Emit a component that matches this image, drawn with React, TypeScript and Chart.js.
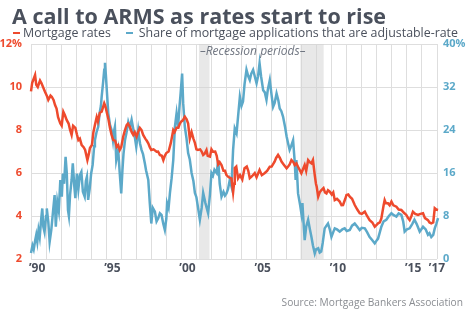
import React, { useEffect, useRef } from "react";
import { Chart, registerables } from "chart.js";

Chart.register(...registerables);

// Mortgage rates (%), left axis
const rateYears = [
  1990.0, 1990.08, 1990.27, 1990.35, 1990.45, 1990.6, 1990.7, 1990.8, 1990.93,
  1991.05, 1991.15, 1991.3, 1991.38, 1991.5, 1991.6, 1991.7, 1991.8, 1991.95,
  1992.04, 1992.15, 1992.25, 1992.37, 1992.5, 1992.6, 1992.7, 1992.8, 1992.95,
  1993.05, 1993.15, 1993.25, 1993.37, 1993.5, 1993.6, 1993.75, 1993.85, 1993.92,
  1994.05, 1994.15, 1994.25, 1994.37, 1994.45, 1994.58, 1994.7, 1994.87, 1994.95,
  1995.03, 1995.15, 1995.25, 1995.35, 1995.47, 1995.6, 1995.7, 1995.8, 1995.9,
  1996.0, 1996.13, 1996.25, 1996.36, 1996.45, 1996.58, 1996.7, 1996.8, 1996.9,
  1997.02, 1997.12, 1997.24, 1997.35, 1997.46, 1997.6, 1997.7, 1997.8, 1997.9,
  1998.0, 1998.15, 1998.35, 1998.45, 1998.57, 1998.7, 1998.8, 1998.9,
  1999.0, 1999.15, 1999.3, 1999.46, 1999.55, 1999.68, 1999.8, 1999.9,
  2000.0, 2000.1, 2000.23, 2000.35, 2000.45, 2000.56, 2000.68, 2000.8, 2000.9,
  2001.0, 2001.1, 2001.25, 2001.35, 2001.45, 2001.55, 2001.67, 2001.75, 2001.9,
  2002.0, 2002.1, 2002.25, 2002.35, 2002.45, 2002.55, 2002.67, 2002.8, 2002.9,
  2003.0, 2003.15, 2003.33, 2003.44, 2003.5, 2003.55, 2003.65, 2003.77, 2003.9,
  2004.05, 2004.2, 2004.35, 2004.45, 2004.55, 2004.7, 2004.88,
  2005.0, 2005.2, 2005.35, 2005.55, 2005.7, 2005.88,
  2006.0, 2006.2, 2006.3, 2006.43, 2006.55, 2006.66, 2006.8,
  2007.0, 2007.1, 2007.2, 2007.32, 2007.45, 2007.54, 2007.65, 2007.76, 2007.9, 2007.98,
  2008.1, 2008.2, 2008.3, 2008.43, 2008.55, 2008.65, 2008.75, 2008.87, 2008.95,
  2009.0, 2009.1, 2009.2, 2009.3, 2009.45, 2009.55, 2009.65, 2009.75, 2009.87,
  2010.0, 2010.1, 2010.2, 2010.35, 2010.53, 2010.65, 2010.75, 2010.9, 2010.98,
  2011.1, 2011.2, 2011.35, 2011.53, 2011.7, 2011.86,
  2012.0, 2012.2, 2012.35, 2012.52, 2012.7, 2012.86,
  2013.0, 2013.08, 2013.2, 2013.3, 2013.45, 2013.52, 2013.6, 2013.74, 2013.85, 2013.97,
  2014.1, 2014.3, 2014.45, 2014.63, 2014.8, 2014.96,
  2015.08, 2015.18, 2015.3, 2015.4, 2015.55, 2015.74, 2015.9,
  2016.07, 2016.2, 2016.4, 2016.5, 2016.62, 2016.75, 2016.85, 2016.95, 2017.07,
];
const rateValues = [
  9.8, 10.2, 10.56, 10.1, 10.0, 10.3, 10.17, 10.0, 9.78,
  9.6, 9.4, 9.6, 9.55, 9.4, 9.16, 9.0, 8.6, 8.3,
  8.2, 8.85, 8.7, 8.47, 8.3, 8.0, 7.77, 8.2, 8.1,
  7.8, 7.53, 7.6, 7.3, 7.2, 7.07, 6.6, 6.9, 7.16,
  7.3, 7.9, 8.23, 8.6, 8.4, 8.8, 8.85, 9.24, 9.1,
  8.85, 8.5, 8.1, 7.8, 7.53, 7.5, 7.22, 7.3, 7.07,
  7.2, 7.69, 8.0, 8.23, 8.3, 8.15, 7.9, 7.77, 7.9,
  7.69, 7.9, 8.1, 8.0, 7.77, 7.6, 7.5, 7.38, 7.2,
  7.07, 7.1, 6.99, 7.0, 6.84, 6.8, 6.6, 6.8,
  6.93, 7.0, 7.4, 8.0, 7.9, 8.1, 8.1, 8.3,
  8.4, 8.45, 8.62, 8.5, 8.3, 7.6, 7.9, 7.6, 7.4,
  7.1, 7.07, 7.1, 7.0, 6.84, 6.9, 7.07, 6.8, 6.76,
  7.1, 6.99, 7.0, 6.8, 6.4, 6.5, 6.37, 6.1, 6.1,
  5.9, 5.8, 5.75, 5.1, 5.5, 6.23, 6.3, 5.75, 5.9,
  5.7, 6.22, 6.3, 6.1, 5.76, 5.85, 6.0,
  5.8, 6.14, 5.9, 6.0, 6.1, 6.29,
  6.3, 6.53, 6.7, 6.84, 6.7, 6.53, 6.4,
  6.22, 6.3, 6.4, 6.6, 6.5, 6.37, 6.45, 6.29, 6.1, 5.99,
  6.2, 6.37, 6.1, 6.6, 6.5, 6.45, 6.6, 5.9, 5.5,
  5.36, 4.9, 5.1, 5.2, 5.3, 5.1, 5.05, 5.2, 5.13,
  5.0, 5.1, 4.74, 4.8, 4.67, 4.5, 4.51, 4.8, 4.98,
  5.0, 4.9, 4.8, 4.51, 4.3, 4.13,
  4.1, 4.2, 4.0, 3.81, 3.7, 3.5,
  3.6, 3.66, 3.7, 3.89, 4.5, 4.74, 4.6, 4.59, 4.5, 4.67,
  4.5, 4.43, 4.3, 4.28, 4.15, 4.05,
  3.9, 3.81, 4.0, 4.2, 4.1, 4.05, 4.1,
  4.13, 3.9, 3.81, 3.7, 3.66, 3.7, 4.36, 4.3, 4.28,
];

// Share of mortgage applications that are adjustable-rate (%), right axis
const armYears = [
  1990.0, 1990.1, 1990.18, 1990.28, 1990.35, 1990.42, 1990.5, 1990.58, 1990.68, 1990.75, 1990.82, 1990.9,
  1991.0, 1991.05, 1991.15, 1991.24, 1991.35, 1991.47, 1991.57, 1991.65, 1991.75, 1991.85, 1991.95,
  1992.05, 1992.12, 1992.2, 1992.3, 1992.38, 1992.46, 1992.52, 1992.6, 1992.7, 1992.78, 1992.88, 1992.95,
  1993.05, 1993.15, 1993.25, 1993.35, 1993.45, 1993.57, 1993.65, 1993.72, 1993.8, 1993.9,
  1994.0, 1994.1, 1994.2, 1994.25, 1994.35, 1994.47, 1994.56, 1994.65, 1994.7, 1994.8, 1994.87, 1994.92, 1994.98,
  1995.05, 1995.14, 1995.25, 1995.36, 1995.45, 1995.5, 1995.58, 1995.67, 1995.8, 1995.9,
  1996.0, 1996.08, 1996.15, 1996.25, 1996.35, 1996.47, 1996.58, 1996.69, 1996.78, 1996.9,
  1997.0, 1997.13, 1997.25, 1997.35, 1997.45, 1997.57, 1997.65, 1997.8, 1997.9,
  1998.0, 1998.1, 1998.24, 1998.35, 1998.46, 1998.57, 1998.68, 1998.8, 1998.9,
  1999.0, 1999.05, 1999.15, 1999.24, 1999.35, 1999.46, 1999.57, 1999.68, 1999.78, 1999.88, 1999.95,
  2000.05, 2000.12, 2000.23, 2000.34, 2000.45, 2000.56, 2000.68, 2000.8, 2000.9,
  2001.0, 2001.1, 2001.23, 2001.35, 2001.45, 2001.6, 2001.78, 2001.9,
  2002.0, 2002.1, 2002.2, 2002.35, 2002.45, 2002.55, 2002.67, 2002.8, 2002.9,
  2003.0, 2003.1, 2003.22, 2003.33, 2003.44, 2003.55, 2003.67, 2003.77, 2003.89,
  2004.0, 2004.1, 2004.2, 2004.33, 2004.45, 2004.55, 2004.65, 2004.77, 2004.88,
  2005.0, 2005.1, 2005.2, 2005.3, 2005.44, 2005.55, 2005.66, 2005.75, 2005.88,
  2006.0, 2006.1, 2006.2, 2006.33, 2006.45, 2006.54, 2006.65, 2006.76, 2006.9,
  2007.0, 2007.1, 2007.2, 2007.3, 2007.43, 2007.54, 2007.6, 2007.65, 2007.76, 2007.9, 2007.98,
  2008.05, 2008.12, 2008.2, 2008.3, 2008.43, 2008.55, 2008.65, 2008.75, 2008.87, 2008.95,
  2009.1, 2009.2, 2009.3, 2009.4, 2009.53, 2009.65, 2009.75, 2009.87, 2009.98,
  2010.1, 2010.2, 2010.35, 2010.53, 2010.7, 2010.86,
  2011.0, 2011.2, 2011.35, 2011.53, 2011.7, 2011.86,
  2012.0, 2012.2, 2012.35, 2012.52, 2012.7, 2012.86,
  2013.0, 2013.08, 2013.2, 2013.3, 2013.45, 2013.63, 2013.8, 2013.97,
  2014.1, 2014.3, 2014.45, 2014.63, 2014.75, 2014.85,
  2015.0, 2015.18, 2015.35, 2015.5, 2015.65, 2015.85, 2015.95,
  2016.07, 2016.25, 2016.4, 2016.5, 2016.62, 2016.75, 2016.85, 2016.95, 2017.07,
];
const armValues = [
  1.1, 2.5, 1.8, 3.5, 4.5, 3.2, 5.4, 4.1, 7.5, 9.4, 6.0, 5.0,
  8.0, 9.4, 6.9, 3.2, 5.4, 9.0, 11.9, 6.0, 10.7, 9.0, 14.7,
  11.6, 15.9, 14.0, 19.0, 16.0, 9.1, 8.0, 12.0, 14.7, 17.8, 13.5, 11.3,
  15.9, 13.0, 15.6, 16.2, 12.5, 11.6, 14.5, 15.3, 11.0, 13.0,
  15.9, 17.5, 21.0, 22.1, 23.5, 24.6, 27.1, 28.5, 30.2, 33.0, 35.2, 36.5, 34.2,
  31.0, 27.1, 25.0, 24.0, 22.1, 23.5, 24.6, 18.4, 20.3, 16.0,
  12.2, 16.5, 19.5, 22.1, 23.5, 25.5, 24.5, 25.9, 24.5, 22.8,
  20.9, 24.0, 21.5, 20.3, 19.5, 17.8, 16.5, 14.7, 10.4,
  6.6, 9.5, 8.8, 7.0, 7.6, 8.5, 8.2, 6.5, 5.4,
  7.5, 10.4, 9.5, 12.3, 15.0, 18.4, 24.6, 27.1, 24.6, 28.5, 30.8,
  34.5, 29.0, 24.6, 22.5, 19.7, 18.5, 16.0, 14.5, 12.3,
  11.5, 9.7, 7.3, 9.5, 12.3, 10.4, 8.5, 12.0,
  16.0, 15.5, 16.6, 16.0, 18.4, 14.0, 11.6, 12.5, 11.8,
  12.2, 13.0, 14.7, 13.5, 20.3, 24.3, 23.4, 26.5, 30.2,
  28.5, 29.3, 32.5, 35.2, 34.0, 33.3, 34.5, 35.2, 34.0,
  32.7, 34.0, 36.4, 34.0, 31.4, 31.0, 29.6, 31.5, 33.3,
  30.5, 28.3, 29.0, 30.8, 29.5, 28.0, 27.5, 26.5, 24.5,
  22.8, 21.5, 20.3, 21.0, 22.1, 18.0, 14.7, 18.4, 12.2, 10.0, 8.5,
  10.4, 7.0, 3.5, 6.0, 7.3, 5.5, 4.1, 2.5, 1.06, 1.8,
  2.0, 1.2, 1.4, 3.0, 5.7, 6.2, 6.6, 5.5, 4.1,
  5.0, 5.7, 5.5, 5.1, 5.5, 5.7,
  5.2, 5.4, 6.2, 6.6, 6.0, 5.4,
  5.8, 5.7, 5.0, 4.1, 3.5, 2.9,
  3.5, 3.8, 5.0, 6.0, 7.0, 7.3, 8.0, 8.5,
  8.2, 7.9, 8.5, 8.2, 7.0, 5.1,
  5.5, 5.7, 6.5, 7.3, 6.5, 5.1, 5.5,
  6.0, 5.5, 4.5, 4.8, 4.1, 4.5, 5.7, 6.5, 7.6,
];

const recessionStarts = [2001.17, 2007.92];
const recessionEnds = [2001.87, 2009.46];

const xLabelYears = [1990, 1995, 2000, 2005, 2010, 2015, 2017];
const xLabelTexts = ["’90", "’95", "’00", "’05", "’10", "’15", "’17"];

const RED = "#ee4a2d";
const BLUE = "#5ca9c9";
const TEXT = "#4a505c";
const FONT = "'Open Sans', 'DejaVu Sans', sans-serif";

const recessionPlugin = {
  id: "recessions",
  beforeDatasetsDraw(chart: any) {
    const { ctx, chartArea, scales } = chart;
    const x = scales.x;
    ctx.save();
    ctx.fillStyle = "rgba(210,210,210,0.5)";
    for (let i = 0; i < recessionStarts.length; i++) {
      const a = x.getPixelForValue(recessionStarts[i]);
      const b = x.getPixelForValue(recessionEnds[i]);
      ctx.fillRect(a, chartArea.top, b - a, chartArea.bottom - chartArea.top);
    }
    ctx.font = `italic 12px ${FONT}`;
    ctx.fillStyle = "#6f7580";
    ctx.textAlign = "left";
    ctx.textBaseline = "middle";
    const start = x.getPixelForValue(recessionStarts[0]);
    ctx.fillText("–Recession periods–", start + 1, chartArea.top + 8);
    ctx.restore();
  },
  afterDraw(chart: any) {
    const { ctx, chartArea, scales } = chart;
    const x = scales.x;
    ctx.save();
    ctx.font = `bold 12px ${FONT}`;
    ctx.fillStyle = TEXT;
    ctx.textBaseline = "middle";
    for (let i = 0; i < xLabelYears.length; i++) {
      const px = x.getPixelForValue(xLabelYears[i]);
      const last = i === xLabelYears.length - 1;
      ctx.textAlign = last ? "center" : "left";
      ctx.fillText(xLabelTexts[i], last ? px : px - 2, chartArea.bottom + 10);
    }
    ctx.restore();
  },
};

export default function App() {
  const ref = useRef<HTMLCanvasElement | null>(null);

  useEffect(() => {
    if (!ref.current) return;
    const rateData = rateYears.map((x, i) => ({ x, y: rateValues[i] }));
    const armData = armYears.map((x, i) => ({ x, y: armValues[i] }));
    const chart = new Chart(ref.current, {
      type: "line",
      data: {
        datasets: [
          {
            label: "Mortgage rates",
            data: rateData,
            borderColor: RED,
            borderWidth: 2.5,
            pointRadius: 0,
            tension: 0,
            yAxisID: "y",
            clip: 6,
          },
          {
            label: "Share of mortgage applications that are adjustable-rate",
            data: armData,
            borderColor: BLUE,
            borderWidth: 2.5,
            pointRadius: 0,
            tension: 0,
            yAxisID: "y2",
            clip: 6,
          },
        ],
      },
      options: {
        responsive: false,
        animation: false,
        events: [],
        layout: { padding: { top: 44, left: 0, right: 0, bottom: 0 } },
        plugins: {
          legend: { display: false },
          tooltip: { enabled: false },
        },
        scales: {
          x: {
            type: "linear",
            min: 1990,
            max: 2017,
            ticks: { stepSize: 1, display: false },
            grid: { color: "#dedede", lineWidth: 1, drawTicks: false },
            border: { display: false },
            afterFit: (s: any) => {
              s.height = 72;
            },
          },
          y: {
            type: "linear",
            position: "left",
            min: 2,
            max: 12,
            ticks: {
              stepSize: 2,
              padding: 9,
              color: RED,
              font: { family: FONT, size: 11, weight: "bold" },
              callback: (v: any) => (v === 12 ? "12%" : String(v)),
            },
            grid: { color: "#dedede", lineWidth: 1, drawTicks: false },
            border: { display: false },
            afterFit: (s: any) => {
              s.width = 31;
            },
          },
          y2: {
            type: "linear",
            position: "right",
            min: 0,
            max: 40,
            ticks: {
              stepSize: 8,
              padding: 6,
              color: BLUE,
              font: { family: FONT, size: 11, weight: "bold" },
              callback: (v: any) => (v === 40 ? "40%" : String(v)),
            },
            grid: { display: false, drawTicks: false },
            border: { display: false },
            afterFit: (s: any) => {
              s.width = 37;
            },
          },
        },
      },
      plugins: [recessionPlugin],
    });
    return () => chart.destroy();
  }, []);

  return (
    <div
      style={{
        position: "fixed",
        left: 0,
        top: 0,
        width: 474,
        height: 331,
        background: "#fff",
        fontFamily: FONT,
      }}
    >
      <canvas ref={ref} width={474} height={331} style={{ position: "absolute", left: 0, top: 0 }} />
      <div
        style={{
          position: "absolute",
          left: 12,
          top: 5,
          fontSize: 21.5,
          lineHeight: "21px",
          fontWeight: 700,
          color: TEXT,
          whiteSpace: "nowrap",
        }}
      >
        A call to ARMS as rates start to rise
      </div>
      <div
        style={{
          position: "absolute",
          left: 13,
          top: 27,
          fontSize: 12.4,
          lineHeight: "12px",
          color: TEXT,
          whiteSpace: "nowrap",
          display: "flex",
          alignItems: "center",
        }}
      >
        <span style={{ display: "inline-block", width: 7, height: 2, background: RED, marginRight: 3 }} />
        <span>Mortgage rates</span>
        <span style={{ display: "inline-block", width: 7, height: 2, background: BLUE, marginLeft: 15, marginRight: 6 }} />
        <span>Share of mortgage applications that are adjustable-rate</span>
      </div>
      <div
        style={{
          position: "absolute",
          right: 11,
          top: 297,
          fontSize: 10.2,
          lineHeight: "11px",
          color: "#8a8d92",
          whiteSpace: "nowrap",
        }}
      >
        Source: Mortgage Bankers Association
      </div>
    </div>
  );
}
